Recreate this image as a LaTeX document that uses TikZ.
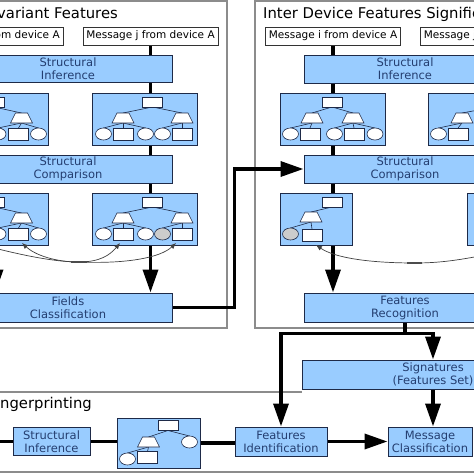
\documentclass[tikz,border=0pt]{standalone}
\usepackage{fontspec}
\setmainfont{DejaVu Sans}
\usetikzlibrary{arrows.meta,backgrounds}

\definecolor{boxblue}{RGB}{153,204,255}
\definecolor{boxline}{RGB}{30,42,72}
\definecolor{boxtext}{RGB}{36,62,112}
\definecolor{panelgray}{RGB}{140,140,140}

\tikzset{
  stage/.style={draw=boxline, fill=boxblue, text=boxtext, line width=1pt,
    font=\fontsize{11.5}{13}\selectfont, align=center, inner sep=0pt},
  msgbox/.style={draw=black!80, fill=white, line width=0.7pt, inner sep=0pt,
    font=\fontsize{10.5}{12}\selectfont, minimum width=135pt, minimum height=18pt},
  treebox/.style={draw=boxline, fill=boxblue, line width=1pt, inner sep=0pt},
  part/.style={draw=boxline, fill=white, line width=0.6pt},
  link/.style={draw=boxline, line width=0.6pt},
  flow/.style={line width=3.5pt},
  flowto/.style={flow, -{Triangle[length=23pt,width=15pt]}},
  assoc/.style={draw=black!75, line width=0.7pt, -{Latex[length=6pt,width=5pt]}},
  panel/.style={draw=panelgray, line width=1.3pt},
  title/.style={font=\fontsize{14.8}{17}\selectfont, inner sep=0pt, anchor=base east}
}

% pieces of the little message trees
\newcommand{\icroot}[2]{\draw[part] (#1-10,#2-5) rectangle (#1+10,#2+5);}
\newcommand{\icfield}[2]{\draw[part] (#1-10,#2-6) rectangle (#1+10,#2+6);}
\newcommand{\icoval}[3][white]{\draw[part, fill=#1] (#2,#3) ellipse (8 and 6);}
\newcommand{\ictrap}[2]{\draw[part] (#1-6,#2-5) -- (#1+6,#2-5) -- (#1+11,#2+5) -- (#1-11,#2+5) -- cycle;}
\newcommand{\icedge}[4]{\draw[link] (#1,#2) -- (#3,#4);}

% tree of message j, #2 = root height
\newcommand{\treeA}[2][white]{%
  \icedge{152.5}{#2+5}{123}{#2+11}
  \icedge{152.5}{#2+5}{182}{#2+11}
  \icedge{123}{#2+21}{103.5}{#2+26}
  \icedge{123}{#2+21}{123}{#2+26}
  \icedge{123}{#2+21}{145.5}{#2+26}
  \icedge{182}{#2+21}{162.5}{#2+26}
  \icedge{182}{#2+21}{182}{#2+26}
  \icroot{152.5}{#2}
  \ictrap{123}{#2+16}
  \ictrap{182}{#2+16}
  \icoval{103.5}{#2+32}
  \icfield{123}{#2+32}
  \icoval{145.5}{#2+32}
  \icoval[#1]{162.5}{#2+32}
  \icfield{182}{#2+32}}

% tree of message i
\newcommand{\treeL}[1]{%
  \icedge{-6}{#1+5}{21.5}{#1+11}
  \icedge{21.5}{#1+21}{-2}{#1+26}
  \icedge{21.5}{#1+21}{18.5}{#1+26}
  \icedge{21.5}{#1+21}{38.5}{#1+26}
  \icroot{-6}{#1}
  \ictrap{21.5}{#1+16}
  \icoval{-2}{#1+32}
  \icfield{18.5}{#1+32}
  \icoval{38.5}{#1+32}}

\begin{document}
\begin{tikzpicture}[x=1pt, y=-1pt]
  \useasboundingbox (0,0) rectangle (474,474);

  % titles
  \node[title] (ttlA) at (118,18) {Invariant Features};
  \node[title, anchor=base west] (ttlB) at (263,18) {Inter Device Features Significance};
  \node[title] (ttlC) at (92,408) {Fingerprinting};

  % messages
  \node[msgbox] (miA) at (-4.5,36) {Message i from device A};
  \node[msgbox] (mjA) at (150.5,36) {Message j from device A};
  \node[msgbox] (miB) at (333,36) {Message i from device A};
  \node[msgbox] (mjB) at (488,36) {Message j from device B};

  % processing steps
  \node[stage, minimum width=208pt, minimum height=27pt] (siA) at (68,68.5) {Structural\\Inference};
  \node[stage, minimum width=208pt, minimum height=28pt] (scA) at (68,169) {Structural\\Comparison};
  \node[stage, minimum width=208pt, minimum height=29pt] (fcA) at (68,307.5) {Fields\\Classification};
  \node[stage, minimum width=202pt, minimum height=28pt] (siB) at (405,69) {Structural\\Inference};
  \node[stage, minimum width=202pt, minimum height=28pt] (scB) at (405,169) {Structural\\Comparison};
  \node[stage, minimum width=202pt, minimum height=29pt] (frB) at (405,307.5) {Features\\Recognition};
  \node[stage, minimum width=262pt, minimum height=29pt] (sigC) at (433,374.5) {Signatures\\(Features Set)};
  \node[stage, minimum width=77pt, minimum height=28pt] (siC) at (51.5,441.5) {Structural\\Inference};
  \node[stage, minimum width=92pt, minimum height=29pt] (fiC) at (281,441.5) {Features\\Identification};
  \node[stage, minimum width=84pt, minimum height=29pt] (mcC) at (430,441.5) {Message\\Classification};

  % tree boxes
  \node[treebox, minimum width=105pt, minimum height=52pt] (tLA1) at (-4.5,119) {};
  \node[treebox, minimum width=105pt, minimum height=52pt] (tRA1) at (144.5,119) {};
  \node[treebox, minimum width=105pt, minimum height=52pt] (tLA2) at (-4.5,219) {};
  \node[treebox, minimum width=105pt, minimum height=52pt] (tRA2) at (144.5,219) {};
  \node[treebox, minimum width=105pt, minimum height=52pt] (tLB1) at (332.5,119) {};
  \node[treebox, minimum width=105pt, minimum height=52pt] (tRB1) at (480.5,119) {};
  \node[treebox, minimum width=72pt, minimum height=52pt] (tLB2) at (316,219) {};
  \node[treebox, minimum width=66pt, minimum height=52pt] (tRB2) at (500,219) {};
  \node[treebox, minimum width=83pt, minimum height=50pt] (tC) at (158.5,443) {};

  \coordinate (inC) at (-5,441.5);

  \begin{scope}[on background layer]
    % panels
    \draw[panel] (-5,1) rectangle (227,328);
    \draw[panel] (255,1) rectangle (490,328);
    \draw[panel] (-5,392) -- (302,392);
    \draw[panel] (-5,472) -- (490,472);

    % main flow
    \draw[flowto] (miA.south) -- (miA.south |- fcA.north);
    \draw[flowto] (mjA.south) -- (mjA.south |- fcA.north);
    \draw[flowto] (miB.south) -- (miB.south |- frB.north);
    \draw[flowto] (fcA.east) -- ++(62,0) |- (scB.west);
    \draw[flow] (frB.south) -- ++(0,11) coordinate (fork);
    \draw[flowto] (fork) -| (fiC.north);
    \draw[flowto] (fork) -| (sigC.north);
    \draw[flowto] (sigC.south) -- (sigC.south |- mcC.north);
    \draw[flow] (inC) -- (siC.west);
    \draw[flow] (siC.east) -- (siC.east -| tC.west);
    \draw[flow] (tC.east) -- (tC.east -| fiC.west);
    \draw[flowto] (fiC.east) -- (mcC.west);
  \end{scope}

  % trees
  \treeL{102}
  \treeA{102}
  \treeL{202}
  \treeA[black!20]{202}

  \icedge{332}{107}{312}{113}
  \icedge{332}{107}{353}{113}
  \icedge{312}{123}{290.5}{128}
  \icedge{312}{123}{310}{128}
  \icedge{353}{123}{334.5}{128}
  \icedge{353}{123}{354}{128}
  \icedge{353}{123}{375}{128}
  \icroot{332}{102}
  \ictrap{312}{118}
  \ictrap{353}{118}
  \icoval{290.5}{134}
  \icfield{310}{134}
  \icoval{334.5}{134}
  \icfield{354}{134}
  \icoval{375}{134}

  \icedge{495}{107}{462}{113}
  \icedge{462}{123}{438.5}{128}
  \icedge{462}{123}{458}{128}
  \ictrap{462}{118}
  \icoval{438.5}{134}
  \icfield{458}{134}

  \icedge{332}{207}{311}{212}
  \icedge{311}{222}{290.5}{228}
  \icedge{311}{222}{312}{229}
  \icroot{332}{202}
  \ictrap{311}{217}
  \icoval[black!20]{290.5}{234}
  \icfield{312}{235}

  \icedge{168}{430.5}{148.5}{437}
  \icedge{168}{430.5}{189.5}{436}
  \icedge{148.5}{447}{127.5}{453}
  \icedge{148.5}{447}{147.5}{451.5}
  \icroot{168}{425.5}
  \ictrap{148.5}{442}
  \icoval{189.5}{442}
  \icoval{127.5}{459}
  \icfield{147.5}{457.5}

  % matched fields
  \coordinate (hubA) at (79,262);
  \coordinate (hubB) at (415,263);
  \draw[assoc] (hubA) .. controls (55,262) and (35,255) .. (22,243);
  \draw[assoc] (hubA) .. controls (100,262) and (110,255) .. (120,243);
  \draw[assoc] (hubA) .. controls (125,264) and (160,258) .. (176,243);
  \draw[assoc, -] (hubA) .. controls (50,262) and (10,252) .. (-10,247);
  \draw[assoc] (hubB) .. controls (370,263) and (335,258) .. (316,245);
  \draw[assoc, -] (hubB) .. controls (440,263) and (460,260) .. (490,254);
  \draw[line width=1.5pt, black!70] (71,262) -- (87,262);
  \draw[line width=1.5pt, black!70] (407,263) -- (422,263);

\end{tikzpicture}
\end{document}
